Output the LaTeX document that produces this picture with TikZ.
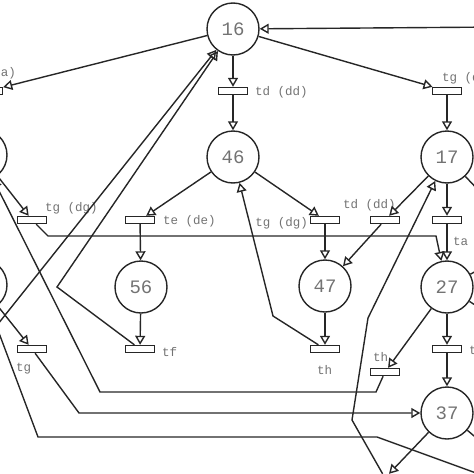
\documentclass[tikz,border=0pt]{standalone}
\usepackage{fontspec}
\newfontfamily\netfont{Liberation Mono}
\usetikzlibrary{arrows.meta}
\definecolor{netline}{gray}{0.15}
\definecolor{nettext}{gray}{0.45}
\tikzset{
	place/.style={draw=netline, circle, line width=1.4pt, inner sep=0pt, minimum size=52pt, font=\netfont\fontsize{19}{19}\selectfont, text=nettext},
	trans/.style={draw=netline, rectangle, line width=1.4pt, inner sep=0pt, minimum width=29pt, minimum height=7pt},
	% for the transition names
	tlabel/.style={inner sep=0pt, font=\netfont\fontsize{12.5}{12.5}\selectfont, text=nettext},
}

\begin{document}
\begin{tikzpicture}[x=1pt, y=-1pt]
				\useasboundingbox (0,0) rectangle (474,474);
				\clip (0,0) rectangle (474,474);
				
				% places
				\node (p16) [place] at (233,29) {16};
				\node (p46) [place] at (233,157) {46};
				\node (p17) [place] at (447,157) {17};
				\node (p56) [place] at (141,287) {56};
				\node (p47) [place] at (325,286) {47};
				\node (p27) [place] at (447,287) {27};
				\node (p37) [place] at (447,413) {37};
				\node (pl1) [place] at (-19,155) {};
				\node (pl2) [place] at (-19,285) {};
				
				% transitions
				\node (t0) [trans] at (-12,91) {};
				\node (t1) [trans] at (233,91) {};
				\node (t2) [trans] at (447,91) {};
				\node (t3) [trans] at (140,220) {};
				\node (t4) [trans] at (325,220) {};
				\node (t5) [trans] at (385,220) {};
				\node (t6) [trans] at (447,220) {};
				\node (t7) [trans] at (32,220) {};
				\node (t8) [trans] at (140,349) {};
				\node (t9) [trans] at (325,349) {};
				\node (t10) [trans] at (385,372) {};
				\node (t11) [trans] at (447,349) {};
				\node (t12) [trans] at (32,349) {};
				\node (t13) [trans] at (385,478) {};
				
				% names
				\node (l0) [tlabel, anchor=east] at (16,73) {ta (da)};
				\node (l1) [tlabel, anchor=west] at (255,92) {td (dd)};
				\node (l2) [tlabel, anchor=west] at (442,78) {tg (dg)};
				\node (l3) [tlabel, anchor=west] at (163,221) {te (de)};
				\node (l4) [tlabel, anchor=east] at (308,223) {tg (dg)};
				\node (l5) [tlabel, anchor=west] at (343,205) {td (dd)};
				\node (l6) [tlabel, anchor=west] at (453,242) {ta (da)};
				\node (l7) [tlabel, anchor=west] at (45,208) {tg (dg)};
				\node (l8) [tlabel, anchor=west] at (162,352) {tf};
				\node (l9) [tlabel, anchor=west] at (317,370) {th};
				\node (l10) [tlabel, anchor=west] at (373,357) {th};
				\node (l11) [tlabel, anchor=west] at (469,350) {ta};
				\node (l12) [tlabel, anchor=west] at (16,369) {tg};
				
				% ends outside the picture
				\coordinate (e16) at (500,27);
				\coordinate (e17) at (500,213);
				\coordinate (e27a) at (500,258);
				\coordinate (e27b) at (500,321);
				\coordinate (e37) at (500,458);
				\coordinate (eA) at (-10,334);
				\coordinate (eB) at (520,489);
				
				\begin{scope}[line width=1.4pt, netline, -{Triangle[open, length=9pt, width=10pt]}]
					\draw (p16) -- (t0);
					\draw (p16) -- (t1);
					\draw (t1) -- (p46);
					\draw (e16) -- (p16);
					\draw (p16) -- (t2);
					\draw (t2) -- (p17);
					
					\draw (p46) -- (t3);
					\draw (t3) -- (p56);
					\draw (p56) -- (t8);
					\draw (t8) -- (57,287) -- (p16);
					\draw (eA) -- (p16);
					
					\draw (p46) -- (t4);
					\draw (t4) -- (p47);
					\draw (p17) -- (t5);
					\draw (t5) -- (p47);
					\draw (p47) -- (t9);
					\draw (t9) -- (273,316) -- (p46);
					
					\draw (p17) -- (t6);
					\draw (t6) -- (p27);
					\draw (p27) -- (t10);
					\draw (p27) -- (t11);
					\draw (t11) -- (p37);
					\draw (p37) -- (t13);
					\draw (t13) -- (352,420) -- (368,318) -- (p17);
					
					\draw (pl1) -- (t7);
					\draw (t7) -- (48,236) -- (436,236) -- (p27);
					\draw (t10) -- (376,392) -- (100,392) -- (pl1);
					\draw (pl2) -- (t12);
					\draw (t12) -- (79,413) -- (p37);
					\draw (eB) -- (377,437) -- (38,437) -- (pl2);
					
					\draw (p17) -- (e17);
					\draw (p27) -- (e27a);
					\draw (p27) -- (e27b);
					\draw (p37) -- (e37);
				\end{scope}	
			\end{tikzpicture}
\end{document}
